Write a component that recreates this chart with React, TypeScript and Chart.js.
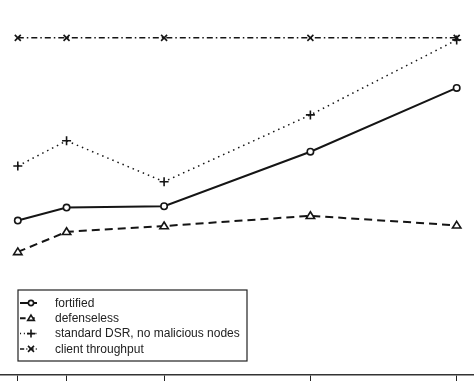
import React, { useEffect, useRef } from "react";
import { Chart, registerables } from "chart.js";

Chart.register(...registerables);

const xValues = [1, 2, 4, 7, 10];
const seriesNames = ["fortified", "defenseless", "standard DSR, no malicious nodes", "client throughput"];
const fortified = [45.3, 49.1, 49.5, 65.5, 84.2];
const defenseless = [36.1, 42.0, 43.7, 46.7, 43.9];
const standardDSR = [61.3, 68.7, 56.7, 76.3, 98.3];
const clientThroughput = [98.9, 98.9, 98.9, 98.9, 98.9];

const INK = "#151515";

type Style = { dash: number[]; width: number; point: string; radius: number; legendRadius: number };
const styles: Style[] = [
  { dash: [], width: 2, point: "circle", radius: 3.2, legendRadius: 2.6 },
  { dash: [8, 5], width: 2, point: "triangle", radius: 4.2, legendRadius: 3.3 },
  { dash: [1.5, 4], width: 1.5, point: "cross", radius: 4.5, legendRadius: 4 },
  { dash: [6, 3, 1.5, 3], width: 1.5, point: "crossRot", radius: 3, legendRadius: 3 },
];

function drawMarker(ctx: CanvasRenderingContext2D, kind: string, x: number, y: number, r: number) {
  ctx.save();
  ctx.setLineDash([]);
  ctx.lineWidth = 1.6;
  ctx.strokeStyle = INK;
  ctx.fillStyle = "#fff";
  ctx.beginPath();
  if (kind === "circle") {
    ctx.arc(x, y, r, 0, Math.PI * 2);
    ctx.fill();
    ctx.stroke();
  } else if (kind === "triangle") {
    const h = r * 1.6;
    ctx.moveTo(x, y - h * 0.6);
    ctx.lineTo(x + r, y + h * 0.4);
    ctx.lineTo(x - r, y + h * 0.4);
    ctx.closePath();
    ctx.fill();
    ctx.stroke();
  } else if (kind === "cross") {
    ctx.moveTo(x - r, y);
    ctx.lineTo(x + r, y);
    ctx.moveTo(x, y - r);
    ctx.lineTo(x, y + r);
    ctx.stroke();
  } else {
    ctx.moveTo(x - r, y - r);
    ctx.lineTo(x + r, y + r);
    ctx.moveTo(x - r, y + r);
    ctx.lineTo(x + r, y - r);
    ctx.stroke();
  }
  ctx.restore();
}

const legendPlugin = {
  id: "boxLegend",
  afterDraw(chart: any) {
    const ctx: CanvasRenderingContext2D = chart.ctx;
    ctx.save();
    ctx.strokeStyle = "#222";
    ctx.lineWidth = 1.2;
    ctx.fillStyle = "#fff";
    ctx.fillRect(18, 290, 229, 71);
    ctx.strokeRect(18, 290, 229, 71);
    ctx.font = "12px 'Liberation Sans', Arial, sans-serif";
    ctx.textBaseline = "middle";
    seriesNames.forEach((name, i) => {
      const y = 303 + i * 15.3;
      const s = styles[i];
      ctx.save();
      ctx.strokeStyle = INK;
      ctx.lineWidth = s.width;
      ctx.setLineDash(s.dash.length ? s.dash.map((d) => d * 0.7) : []);
      ctx.beginPath();
      ctx.moveTo(20, y);
      ctx.lineTo(37, y);
      ctx.stroke();
      ctx.restore();
      drawMarker(ctx, s.point, 31, y, s.legendRadius);
      ctx.fillStyle = "#222";
      ctx.fillText(name, 55, y + 0.5);
    });
    ctx.restore();
  },
};

const markerPlugin = {
  id: "customMarkers",
  afterDatasetsDraw(chart: any) {
    const ctx: CanvasRenderingContext2D = chart.ctx;
    chart.data.datasets.forEach((ds: any, i: number) => {
      const meta = chart.getDatasetMeta(i);
      meta.data.forEach((pt: any) => {
        drawMarker(ctx, styles[i].point, pt.x, pt.y, styles[i].radius);
      });
    });
  },
};

export default function App() {
  const ref = useRef<HTMLCanvasElement>(null);
  useEffect(() => {
    document.body.style.margin = "0";
    const all = [fortified, defenseless, standardDSR, clientThroughput];
    const chart = new Chart(ref.current!, {
      type: "line",
      data: {
        datasets: all.map((vals, i) => ({
          label: seriesNames[i],
          data: vals.map((v, j) => ({ x: xValues[j], y: v })),
          borderColor: INK,
          borderWidth: styles[i].width,
          borderDash: styles[i].dash,
          pointRadius: 0,
          fill: false,
          tension: 0,
        })),
      },
      options: {
        animation: false,
        responsive: false,
        layout: { padding: 0 },
        plugins: { legend: { display: false }, tooltip: { enabled: false } },
        scales: {
          x: {
            type: "linear",
            min: 0.635,
            max: 10.355,
            afterBuildTicks: (axis: any) => {
              axis.ticks = xValues.map((v) => ({ value: v }));
            },
            ticks: { display: false },
            grid: { drawOnChartArea: false, drawTicks: true, tickLength: 6, color: "#222", lineWidth: 1 },
            border: { display: true, color: "#333", width: 1.5 },
          },
          y: { display: false, min: 0, max: 110 },
        },
      },
      plugins: [markerPlugin, legendPlugin],
    });
    return () => chart.destroy();
  }, []);
  return (
    <div style={{ position: "fixed", left: 0, top: 0, width: 474, height: 381, overflow: "hidden", background: "#fff" }}>
      <canvas ref={ref} width={474} height={381} style={{ display: "block" }} />
    </div>
  );
}
